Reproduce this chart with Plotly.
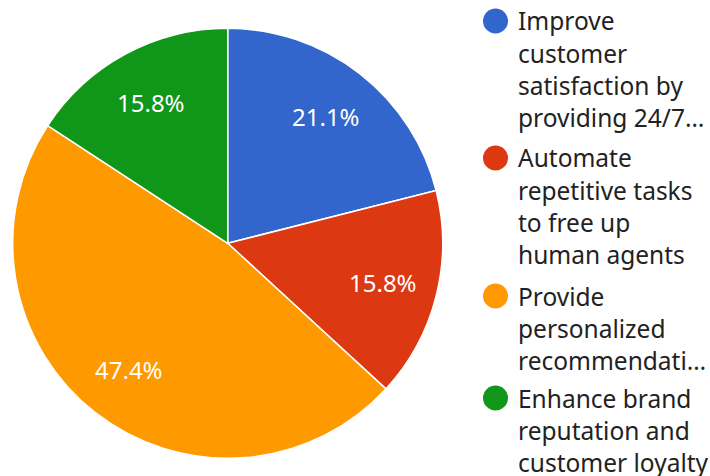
import math
import plotly.graph_objects as go

labels = [
    "Improve customer satisfaction by providing 24/7 support",
    "Automate repetitive tasks to free up human agents",
    "Provide personalized recommendations",
    "Enhance brand reputation and customer loyalty",
]
legend_lines = [
    ["Improve", "customer", "satisfaction by", "providing 24/7…"],
    ["Automate", "repetitive tasks", "to free up", "human agents"],
    ["Provide", "personalized", "recommendati…"],
    ["Enhance brand", "reputation and", "customer loyalty"],
]
counts = [4, 3, 9, 3]
colors = ["#3366CC", "#DC3912", "#FF9900", "#109618"]

W, H = 710, 476
FONT = "Noto Sans"

# pie geometry (pixels)
pie_left, pie_right = 12.7, 442.7
pie_top, pie_bottom = 28.3, 458.3
cx = (pie_left + pie_right) / 2
cy = (pie_top + pie_bottom) / 2
R = (pie_right - pie_left) / 2
label_r = 0.745

fig = go.Figure()
fig.add_trace(go.Pie(
    labels=labels,
    values=counts,
    sort=False,
    direction="clockwise",
    rotation=0,
    marker=dict(colors=colors, line=dict(color="#FFFFFF", width=1.5)),
    textinfo="none",
    domain=dict(x=[pie_left / W, pie_right / W], y=[1 - pie_bottom / H, 1 - pie_top / H]),
    showlegend=False,
    hoverinfo="label+percent",
))

shapes = []
annotations = []

# percentage labels placed along each slice's mid-angle (computed from data)
total = sum(counts)
cum = 0
for v in counts:
    mid = (cum + v / 2) / total * 2 * math.pi
    cum += v
    px = cx + label_r * R * math.sin(mid)
    py = cy - label_r * R * math.cos(mid)
    annotations.append(dict(
        text=f"{v / total * 100:.1f}%", xref="paper", yref="paper",
        x=px / W, y=1 - py / H, xanchor="center", yanchor="middle",
        showarrow=False, font=dict(family=FONT, size=24, color="#FFFFFF"),
    ))

# manual legend (wrapped text like the original)
item_top = [21, 158, 296, 398]
line_gap = 32.3
circle_cx, circle_r = 495.5, 12.5
text_x = 516
for i, lines in enumerate(legend_lines):
    ly = item_top[i]
    shapes.append(dict(
        type="circle", xref="paper", yref="paper",
        x0=(circle_cx - circle_r) / W, x1=(circle_cx + circle_r) / W,
        y0=1 - (ly + circle_r) / H, y1=1 - (ly - circle_r) / H,
        fillcolor=colors[i], line=dict(width=0),
    ))
    for j, line in enumerate(lines):
        y = ly + j * line_gap
        annotations.append(dict(
            text=line, xref="paper", yref="paper",
            x=text_x / W, y=1 - y / H, xanchor="left", yanchor="middle",
            showarrow=False, font=dict(family=FONT, size=24.5, color="#222222"),
        ))

fig.update_layout(
    width=W, height=H,
    margin=dict(l=0, r=0, t=0, b=0),
    paper_bgcolor="#FFFFFF",
    plot_bgcolor="#FFFFFF",
    font=dict(family=FONT),
    shapes=shapes,
    annotations=annotations,
)

fig.write_html(
    "out.html",
    config={"displayModeBar": False},
    post_script="document.body.style.margin='0';document.body.style.padding='0';",
)
